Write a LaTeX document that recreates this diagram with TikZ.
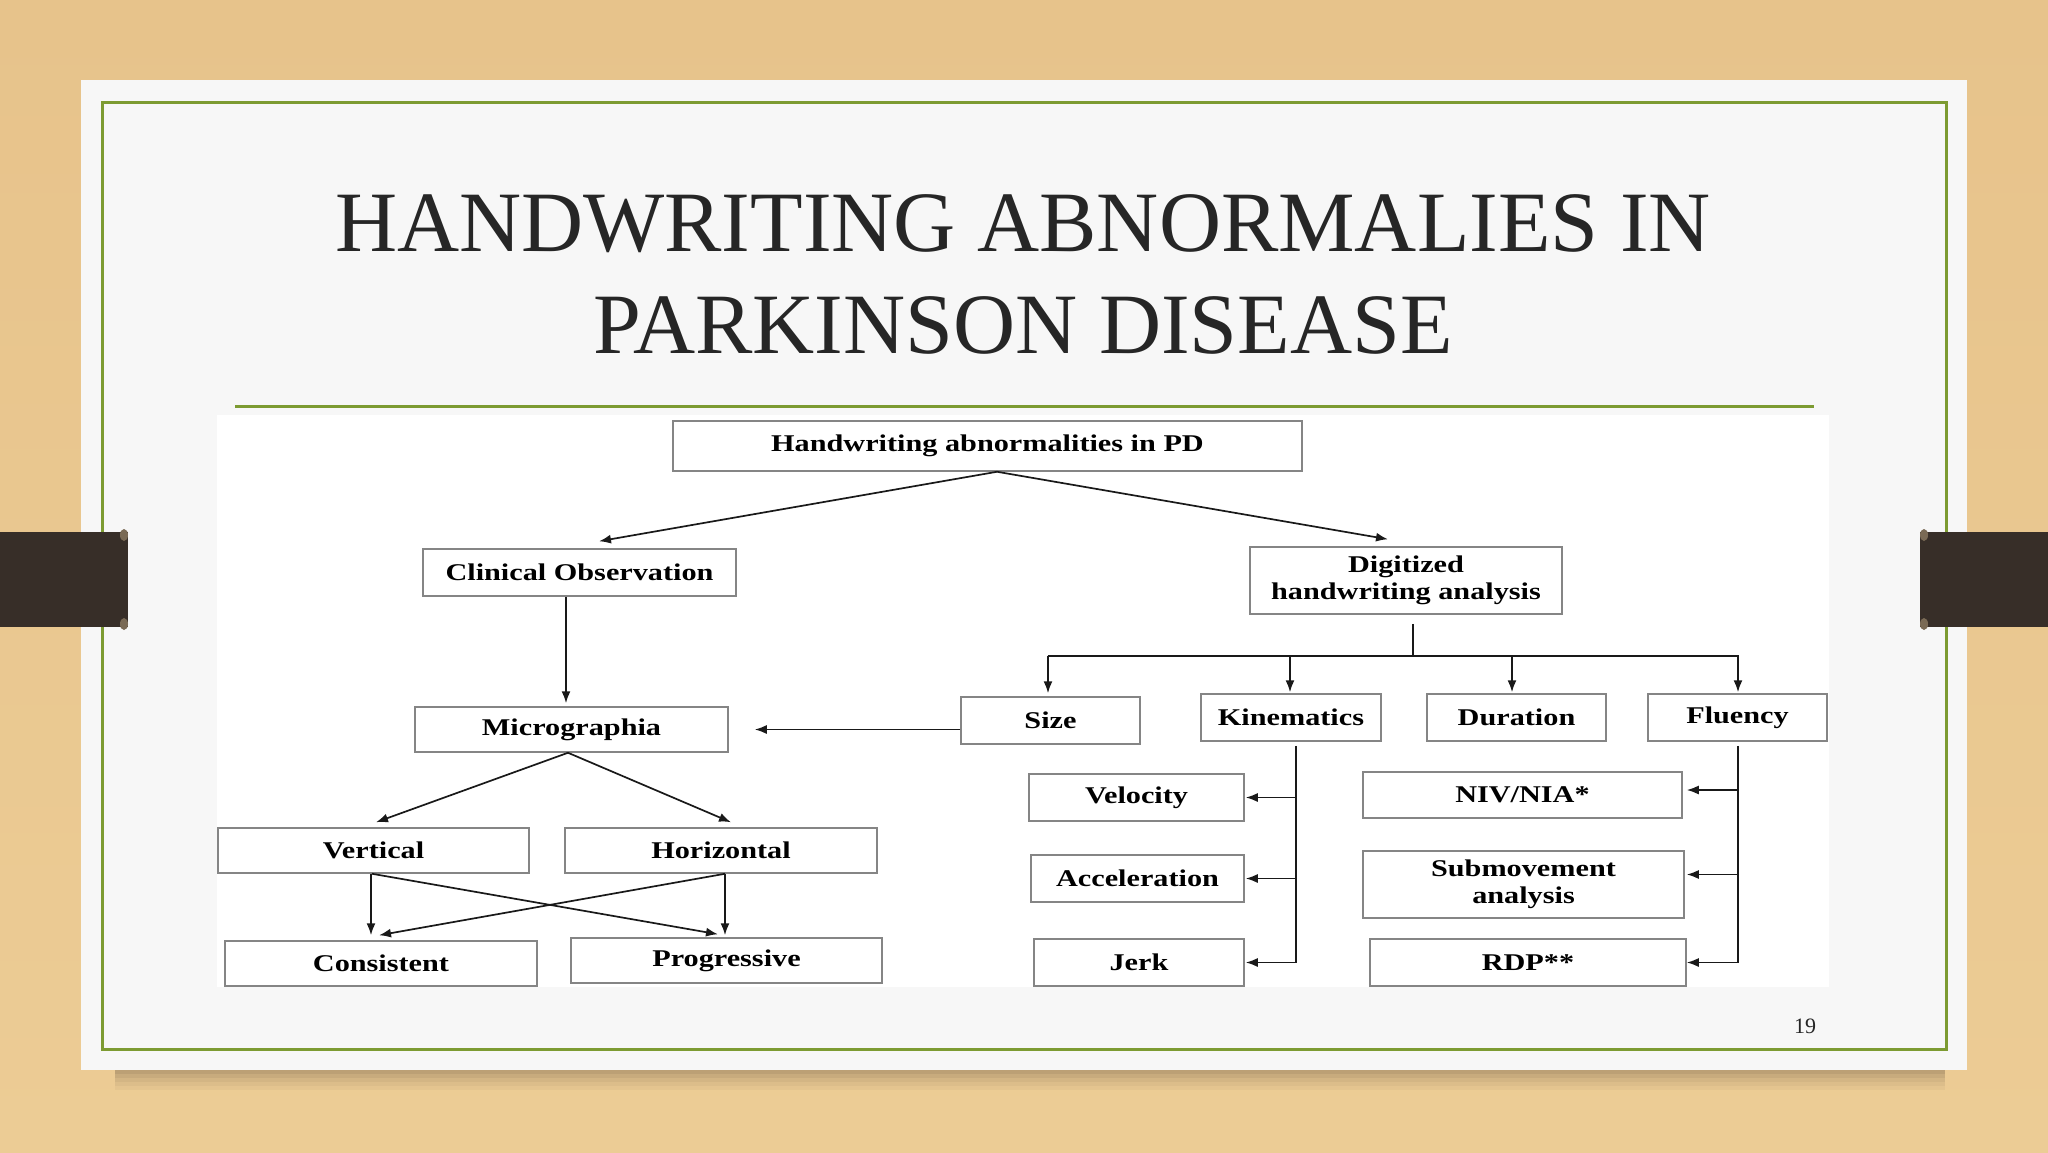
\documentclass[tikz,border=0pt]{standalone}
\usepackage{fontspec}
\setmainfont{Liberation Serif}
\newfontfamily\boxfont[FakeStretch=1.26]{Liberation Serif}
\usetikzlibrary{arrows.meta,calc}
\definecolor{woodA}{HTML}{E7C38B}
\definecolor{woodB}{HTML}{ECCC95}
\definecolor{slidebg}{HTML}{F7F7F7}
\definecolor{greenline}{HTML}{7D9B32}
\definecolor{tabdark}{HTML}{372E28}
\definecolor{tabnub}{HTML}{7A6A55}
\definecolor{boxgray}{HTML}{858585}
\definecolor{titlecol}{HTML}{262626}
\tikzset{
  box/.style={draw=boxgray, line width=1.5pt, fill=white, inner sep=0pt, align=center,
    text=black, font=\boxfont\bfseries\fontsize{24}{27}\selectfont},
  bx/.style 2 args={minimum width=#1, minimum height=#2},
  arr/.style={draw=black!90, line width=1.7pt, -{Latex[length=12pt,width=9pt]}},
  conn/.style={draw=black!90, line width=1.7pt},
  titlefont/.style={font=\fontsize{86}{100}\selectfont, text=titlecol, inner sep=0pt, anchor=base}
}
\begin{document}
\begin{tikzpicture}[x=1pt,y=-1pt]
\useasboundingbox (0,0) rectangle (2048,1152);
% wood background
\fill[top color=woodA, bottom color=woodB] (0,0) rectangle (2048,1152);
% slide shadow
\foreach \o/\a in {20/0.03,16/0.03,12/0.04,8/0.05,4/0.06}{
  \fill[black, opacity=\a] (115,1060) rectangle (1945,1070+\o);
}
% slide
\fill[slidebg] (81,80) rectangle (1967,1070);
\draw[greenline, line width=3pt] (102,102) rectangle (1946,1049);
% tabs
\fill[tabdark] (0,532) rectangle (128,627);
\fill[tabnub] (124,535) ellipse (4 and 6);
\fill[tabnub] (124,624) ellipse (4 and 6);
\fill[tabdark] (1920,532) rectangle (2048,627);
\fill[tabnub] (1924,535) ellipse (4 and 6);
\fill[tabnub] (1924,624) ellipse (4 and 6);
% title
\node[titlefont] (t1) at (1023,251) {HANDWRITING ABNORMALIES IN};
\node[titlefont] (t2) at (1023,353) {PARKINSON DISEASE};
\draw[greenline, line width=3pt] (235,406) -- (1814,406);
% diagram area
\fill[white] (217,415) rectangle (1829,987);
% boxes
\node[box, bx={629pt}{50pt}] (top) at (987.5,446) {Handwriting abnormalities in PD};
\node[box, bx={313pt}{47pt}] (clin) at (579.5,572.5) {Clinical Observation};
\node[box, bx={312pt}{67pt}] (dig) at (1406,580.5) {Digitized\\handwriting analysis};
\node[box, bx={313pt}{45pt}] (micro) at (571.5,729.5) {Micrographia};
\node[box, bx={179pt}{47pt}] (size) at (1050.5,720.5) {Size};
\node[box, bx={180pt}{47pt}] (kin) at (1291,717.5) {Kinematics};
\node[box, bx={179pt}{47pt}] (dur) at (1516.5,717.5) {Duration};
\node[box, bx={179pt}{47pt}] (flu) at (1737.5,717.5) {Fluency};
\node[box, bx={311pt}{45pt}] (vert) at (373.5,850.5) {Vertical};
\node[box, bx={312pt}{45pt}] (horiz) at (721,850.5) {Horizontal};
\node[box, bx={312pt}{45pt}] (cons) at (381,963.5) {Consistent};
\node[box, bx={311pt}{45pt}] (prog) at (726.5,960.5) {Progressive};
\node[box, bx={215pt}{47pt}] (vel) at (1136.5,797.5) {Velocity};
\node[box, bx={213pt}{47pt}] (acc) at (1137.5,878.5) {Acceleration};
\node[box, bx={210pt}{47pt}] (jerk) at (1139,962.5) {Jerk};
\node[box, bx={319pt}{46pt}] (niv) at (1522.5,795) {NIV/NIA*};
\node[box, bx={321pt}{67pt}] (sub) at (1523.5,884.5) {Submovement\\analysis};
\node[box, bx={316pt}{47pt}] (rdp) at (1528,962.5) {RDP**};
% page number
\node[font=\fontsize{22}{24}\selectfont, text=titlecol, anchor=base, inner sep=0pt] (pg) at (1805,1033) {19};
% connectors
\coordinate (topb) at ($(top.south)+(9.5,0)$);
\draw[arr] (topb) -- ($(clin.north)+(19.5,-7)$);
\draw[arr] (topb) -- ($(dig.north)+(-18,-7)$);
\draw[arr] ($(clin.south)+(-13.5,0)$) -- ($(micro.north)+(-5.5,-3)$);
% digitized tree
\coordinate (dstem) at ($(dig.south)+(7,9)$);
\coordinate (bar) at ($(dig.south)+(7,41)$);
\draw[conn] (dstem) -- (bar);
\draw[conn] ($(size.north |- bar)+(-3,0)$) -- ($(flu.north |- bar)+(1,0)$);
\draw[arr] ($(size.north |- bar)+(-2.5,0)$) -- ($(size.north)+(-2.5,-3)$);
\draw[arr] ($(kin.north |- bar)+(-1,0)$) -- ($(kin.north)+(-1,-1)$);
\draw[arr] ($(dur.north |- bar)+(-4.5,0)$) -- ($(dur.north)+(-4.5,-1)$);
\draw[arr] ($(flu.north |- bar)+(0.5,0)$) -- ($(flu.north)+(0.5,-1)$);
% size to micrographia
\draw[arr] (size.west |- micro.east) -- ($(micro.east)+(26,0)$);
% micrographia split
\coordinate (mb) at ($(micro.south)+(-3.5,0)$);
\draw[arr] (mb) -- ($(vert.north)+(2.5,-5)$);
\draw[arr] (mb) -- ($(horiz.north)+(10,-5)$);
% vertical/horizontal to consistent/progressive
\draw[arr] ($(vert.south)+(-2.5,0)$) -- ($(cons.north)+(-10,-5)$);
\draw[arr] ($(vert.south)+(-1.5,0)$) -- ($(prog.north)+(-8.5,-3)$);
\draw[arr] ($(horiz.south)+(4,0)$) -- ($(prog.north)+(-1.5,-2)$);
\draw[arr] ($(horiz.south)+(4,0)$) -- ($(cons.north)+(-2,-5)$);
% kinematics branch
\coordinate (kt) at ($(kin.south)+(5,4)$);
\draw[conn] (kt) -- (kt |- jerk.east);
\draw[arr] (kt |- vel.east) -- ($(vel.east)+(1,0)$);
\draw[arr] (kt |- acc.east) -- ($(acc.east)+(1,0)$);
\draw[arr] (kt |- jerk.east) -- ($(jerk.east)+(1,0)$);
% fluency branch
\coordinate (ft) at ($(flu.south)+(0.5,4)$);
\draw[conn] (ft) -- (ft |- rdp.east);
\draw[arr] ($(ft |- niv.east)+(0,-5)$) -- ($(niv.east)+(4,-5)$);
\draw[arr] ($(ft |- sub.east)+(0,-10)$) -- ($(sub.east)+(2,-10)$);
\draw[arr] (ft |- rdp.east) -- (rdp.east);
\end{tikzpicture}
\end{document}
